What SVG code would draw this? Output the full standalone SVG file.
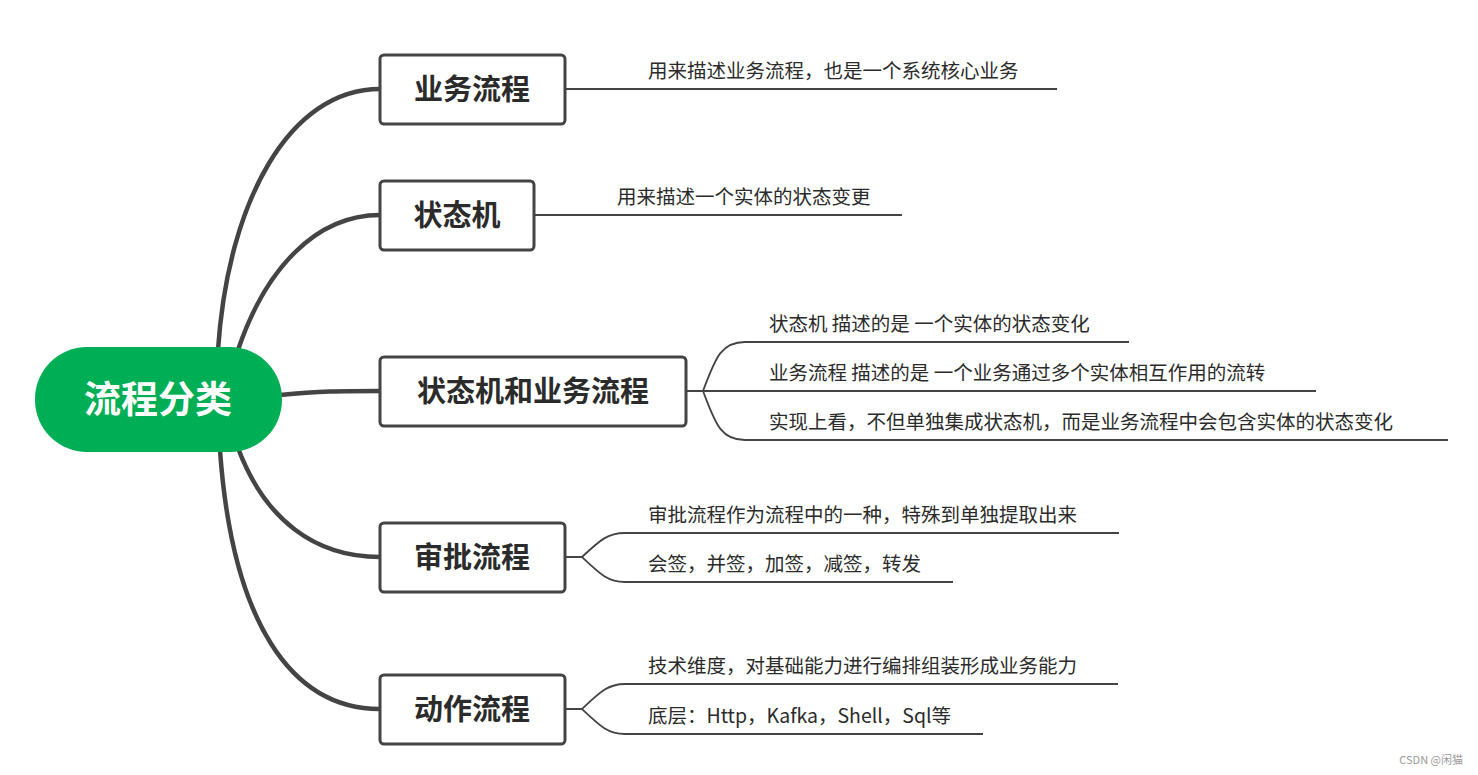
<svg xmlns="http://www.w3.org/2000/svg" width="1478" height="775" viewBox="0 0 1478 775">
<style>
.n{fill:#fff;stroke:#444;stroke-width:3}
.nt{font-family:"Noto Sans CJK SC",sans-serif;font-weight:bold;font-size:29px;fill:#2b2b2b;text-anchor:middle}
.lt{font-family:"Noto Sans CJK SC",sans-serif;font-size:19.5px;fill:#2b2b2b}
.c{fill:none;stroke:#444;stroke-width:4.5}
.l{fill:none;stroke:#444;stroke-width:1.8}
</style>
<rect width="1478" height="775" fill="#fff"/>
<g id="connectors">
<path class="c" d="M218 350 C228 200 290 89 380 89"/>
<path class="c" d="M238 350 C265 270 315 215 380 215"/>
<path class="c" d="M280 395 C320 391 340 391 380 391"/>
<path class="c" d="M238 448 C265 520 315 557 380 557"/>
<path class="c" d="M220 450 C232 620 290 709 380 709"/>
<path class="l" d="M565 89 H1057"/>
<path class="l" d="M534 215 H902"/>
<path class="l" d="M686 391 H703 C715 360 720 342 745 342 H1129 M703 391 H1316 M703 391 C715 422 720 440 745 440 H1448"/>
<path class="l" d="M565 557 H582 C600 540 608 533 625 533 H1119 M582 557 C600 574 608 582 625 582 H953"/>
<path class="l" d="M565 709 H582 C600 692 608 684 625 684 H1118 M582 709 C600 726 608 734 625 734 H983"/>
</g>
<g id="root"><rect x="35" y="347" width="247" height="105" rx="52" fill="#00ae55"/><text x="158" y="413" font-family="Noto Sans CJK SC,sans-serif" font-weight="bold" font-size="37" fill="#fff" text-anchor="middle">流程分类</text></g>
<g id="n1"><rect class="n" x="380" y="55" width="185" height="69" rx="4"/><text class="nt" x="472" y="100">业务流程</text></g>
<g id="n2"><rect class="n" x="380" y="181" width="154" height="69" rx="4"/><text class="nt" x="457" y="226">状态机</text></g>
<g id="n3"><rect class="n" x="380" y="357" width="306" height="69" rx="4"/><text class="nt" x="533" y="402">状态机和业务流程</text></g>
<g id="n4"><rect class="n" x="380" y="523" width="185" height="69" rx="4"/><text class="nt" x="472" y="568">审批流程</text></g>
<g id="n5"><rect class="n" x="380" y="675" width="185" height="69" rx="4"/><text class="nt" x="472" y="720">动作流程</text></g>
<g id="leaves">
<text class="lt" x="648" y="78">用来描述业务流程，也是一个系统核心业务</text>
<text class="lt" x="617" y="204">用来描述一个实体的状态变更</text>
<text class="lt" x="769" y="331">状态机 描述的是 一个实体的状态变化</text>
<text class="lt" x="769" y="380">业务流程 描述的是 一个业务通过多个实体相互作用的流转</text>
<text class="lt" x="769" y="429">实现上看，不但单独集成状态机，而是业务流程中会包含实体的状态变化</text>
<text class="lt" x="648" y="522">审批流程作为流程中的一种，特殊到单独提取出来</text>
<text class="lt" x="648" y="571">会签，并签，加签，减签，转发</text>
<text class="lt" x="648" y="673">技术维度，对基础能力进行编排组装形成业务能力</text>
<text class="lt" x="648" y="723">底层：Http，Kafka，Shell，Sql等</text>
</g>
<text x="1463" y="764" font-family="Noto Sans CJK SC,sans-serif" font-size="11" fill="#999" text-anchor="end">CSDN @闲猫</text>
</svg>
